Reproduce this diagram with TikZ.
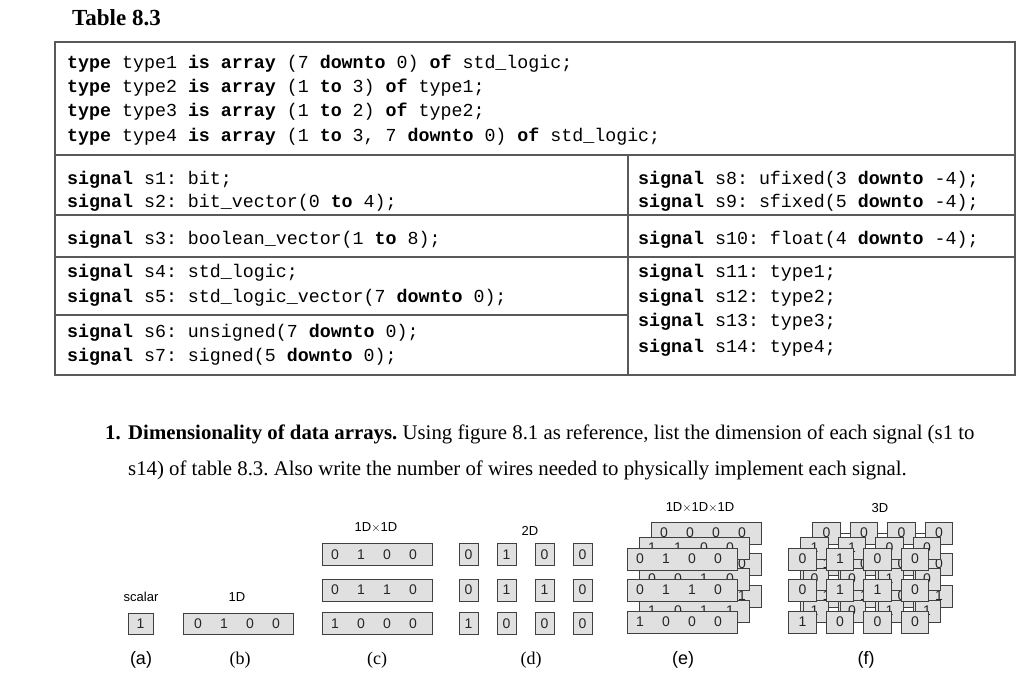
\documentclass[tikz,border=0pt]{standalone}
\usepackage{fontspec}
\setmainfont{Liberation Serif}
\setsansfont{Liberation Sans}
\newfontfamily\codefont{Liberation Mono}
\begin{document}
\frenchspacing
\begin{tikzpicture}[x=1pt,y=-1pt,
  tline/.style={draw=black!65,line width=1.8pt},
  code/.style={anchor=west,inner sep=0pt,font=\codefont\fontsize{18.3}{18}\selectfont},
  para/.style={anchor=base west,inner sep=0pt,font=\fontsize{20.8}{20}\selectfont},
  bx/.style={draw=black!75,fill=black!12,line width=0.8pt},
  dg/.style={font=\sffamily\fontsize{14}{14}\selectfont,text=black!85,inner sep=0pt},
  lb/.style={font=\sffamily\fontsize{13}{13}\selectfont,inner sep=0pt},
  capsf/.style={font=\sffamily\fontsize{18}{18}\selectfont,inner sep=0pt},
  caprm/.style={font=\rmfamily\fontsize{18}{18}\selectfont,inner sep=0pt}]
\useasboundingbox (0,0) rectangle (1024,690);
\newcommand\kw[1]{\textbf{#1}}
% one layer of (e): dx, dy, rows
\newcommand\layerE[5]{%
  \foreach \yy/\aa/\bb/\cc/\dd in {559/#3,590/#4,622/#5}{
    \draw[bx] (627+#1,\yy-11+#2) rectangle (737+#1,\yy+11+#2);
    \node[dg] at (640+#1,\yy+#2) {\aa};
    \node[dg] at (666+#1,\yy+#2) {\bb};
    \node[dg] at (692+#1,\yy+#2) {\cc};
    \node[dg] at (718+#1,\yy+#2) {\dd};
  }}
% one layer of (f)
\newcommand\layerF[5]{%
  \draw[black!75,line width=0.8pt] (803+#1,559+#2) -- (915+#1,559+#2)
     (803+#1,590+#2) -- (915+#1,590+#2) (803+#1,622+#2) -- (915+#1,622+#2);
  \foreach \xx in {803,840,878,915}
    \draw[black!75,line width=0.8pt] (\xx+#1,559+#2) -- (\xx+#1,622+#2);
  \foreach \yy/\aa/\bb/\cc/\dd in {559/#3,590/#4,622/#5}{
    \foreach \xx/\vv in {802.5/\aa,840/\bb,877.5/\cc,915/\dd}{
      \draw[bx] (\xx-13.75+#1,\yy-11+#2) rectangle (\xx+13.75+#1,\yy+11+#2);
      \node[dg] at (\xx+#1,\yy+#2) {\vv};}
  }}
% title
\node[anchor=west,inner sep=0pt,font=\bfseries\fontsize{23}{23}\selectfont] (title) at (72,18) {Table 8.3};
% table
\draw[tline] (55,42) rectangle (1015,375);
\draw[tline] (55,155) -- (1015,155);
\draw[tline] (55,215) -- (1015,215);
\draw[tline] (55,257) -- (1015,257);
\draw[tline] (55,315) -- (628,315);
\draw[tline] (628,155) -- (628,375);
\node[code] (t1) at (67,64) {\kw{type} type1 \kw{is array} (7 \kw{downto} 0) \kw{of} std\_logic;};
\node[code] (t2) at (67,88) {\kw{type} type2 \kw{is array} (1 \kw{to} 3) \kw{of} type1;};
\node[code] (t3) at (67,112) {\kw{type} type3 \kw{is array} (1 \kw{to} 2) \kw{of} type2;};
\node[code] (t4) at (67,137) {\kw{type} type4 \kw{is array} (1 \kw{to} 3, 7 \kw{downto} 0) \kw{of} std\_logic;};
\node[code] (s1) at (67,180) {\kw{signal} s1: bit;};
\node[code] (s2) at (67,203) {\kw{signal} s2: bit\_vector(0 \kw{to} 4);};
\node[code] (s3) at (67,240) {\kw{signal} s3: boolean\_vector(1 \kw{to} 8);};
\node[code] (s4) at (67,273) {\kw{signal} s4: std\_logic;};
\node[code] (s5) at (67,298) {\kw{signal} s5: std\_logic\_vector(7 \kw{downto} 0);};
\node[code] (s6) at (67,333) {\kw{signal} s6: unsigned(7 \kw{downto} 0);};
\node[code] (s7) at (67,357) {\kw{signal} s7: signed(5 \kw{downto} 0);};
\node[code] (s8) at (638,180) {\kw{signal} s8: ufixed(3 \kw{downto} -4);};
\node[code] (s9) at (638,203) {\kw{signal} s9: sfixed(5 \kw{downto} -4);};
\node[code] (s10) at (638,240) {\kw{signal} s10: float(4 \kw{downto} -4);};
\node[code] (s11) at (638,273) {\kw{signal} s11: type1;};
\node[code] (s12) at (638,298) {\kw{signal} s12: type2;};
\node[code] (s13) at (638,322) {\kw{signal} s13: type3;};
\node[code] (s14) at (638,348) {\kw{signal} s14: type4;};
% paragraph
\node[para] (p0) at (105,439) {\textbf{1.}};
\node[para] (p1) at (128,439) {\textbf{Dimensionality of data arrays.} Using figure 8.1 as reference, list the dimension of each signal (s1 to};
\node[para] (p2) at (128,475) {s14) of table 8.3. Also write the number of wires needed to physically implement each signal.};
% (a)
\node[lb] (la) at (141,597) {scalar};
\draw[bx] (128,613) rectangle (153,634);
\node[dg] at (140.5,623.5) {1};
\node[capsf] (ca) at (141,660) {(a)};
% (b)
\node[lb] (lbb) at (237,597) {1D};
\draw[bx] (183,613) rectangle (293,634);
\foreach \d [count=\i] in {0,1,0,0} \node[dg] at (172+26*\i,623.5) {\d};
\node[caprm] (cb) at (240,660) {(b)};
% (c)
\node[lb] (lc) at (376,528) {1D$\times$1D};
\foreach \row/\yy in {{0,1,0,0}/554.5,{0,1,1,0}/590,{1,0,0,0}/623.5}{
  \draw[bx] (322,\yy-11) rectangle (432,\yy+11);
  \foreach \d [count=\i] in \row \node[dg] at (309+26*\i,\yy) {\d};
}
\node[caprm] (cc) at (377,660) {(c)};
% (d)
\node[lb] (ld) at (530,531) {2D};
\foreach \row/\yy in {{0,1,0,0}/554.5,{0,1,1,0}/590,{1,0,0,0}/623.5}{
  \foreach \d [count=\i] in \row {
    \draw[bx] (421+38*\i,\yy-11) rectangle (440+38*\i,\yy+11);
    \node[dg] at (430.5+38*\i,\yy) {\d};}
}
\node[caprm] (cd) at (531,660) {(d)};
% (e)
\node[lb] (le) at (700,508) {1D$\times$1D$\times$1D};
\layerE{24}{-26}{0/0/0/0}{1/0/0/0}{1/1/0/1}
\layerE{12}{-11}{1/1/0/0}{0/0/1/0}{1/0/1/1}
\layerE{0}{0}{0/1/0/0}{0/1/1/0}{1/0/0/0}
\node[capsf] (ce) at (683,660) {(e)};
% (f)
\node[lb] (lf) at (880,508) {3D};
\layerF{24}{-26}{0/0/0/0}{1/0/0/0}{1/1/0/1}
\layerF{12}{-11}{1/1/0/0}{0/0/1/0}{1/0/1/1}
\layerF{0}{0}{0/1/0/0}{0/1/1/0}{1/0/0/0}
\node[capsf] (cf) at (866,660) {(f)};
\end{tikzpicture}
\end{document}
